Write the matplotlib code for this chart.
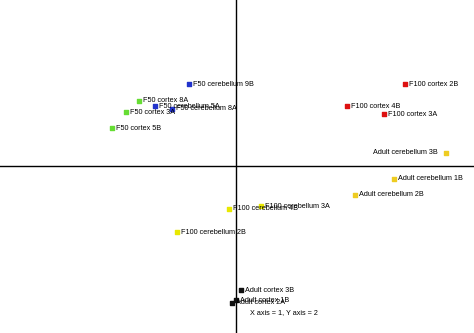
import matplotlib.pyplot as plt

# PCA scores (axis 1 = x, axis 2 = y)
names = ["F50 cerebellum 9B", "F50 cerebellum 5A", "F50 cerebellum 8A",
         "F50 cortex 8A", "F50 cortex 3A", "F50 cortex 5B",
         "F100 cortex 2B", "F100 cortex 4B", "F100 cortex 3A",
         "Adult cerebellum 3B", "Adult cerebellum 1B", "Adult cerebellum 2B",
         "F100 cerebellum 4B", "F100 cerebellum 3A", "F100 cerebellum 2B",
         "Adult cortex 3B", "Adult cortex 1B", "Adult cortex 2A"]
xs = [-0.47, -0.81, -0.64,
      -0.97, -1.10, -1.24,
      1.69, 1.11, 1.48,
      2.10, 1.58, 1.19,
      -0.07, 0.25, -0.59,
      0.05, 0.00, -0.04]
ys = [0.82, 0.60, 0.57,
      0.65, 0.54, 0.38,
      0.82, 0.60, 0.52,
      0.13, -0.13, -0.29,
      -0.43, -0.40, -0.66,
      -1.24, -1.34, -1.37]
colors = ["#2233cc"] * 3 + ["#66dd33"] * 3 + ["#dd1111"] * 3 + ["#eecc22"] * 3 + \
         ["#e8e800"] * 3 + ["#111111"] * 3

fig = plt.figure(figsize=(4.74, 3.33), dpi=100)
ax = fig.add_axes([0, 0, 1, 1])
ax.set_xlim(-2.36, 2.38)
ax.set_ylim(-1.67, 1.66)
ax.axis("off")
ax.axhline(0, color="black", lw=1.0)
ax.axvline(0, color="black", lw=1.0)

ax.scatter(xs, ys, marker="s", s=10, c=colors, zorder=3)
for name, x, y in zip(names, xs, ys):
    if name == "Adult cerebellum 3B":
        ax.annotate(name, (x, y), xytext=(-6, 0), textcoords="offset points",
                    ha="right", va="center", fontsize=5.2, family="Liberation Sans")
    else:
        ax.annotate(name, (x, y), xytext=(3, 0), textcoords="offset points",
                    ha="left", va="center", fontsize=5.2, family="Liberation Sans")

ax.text(0.14, -1.47, "X axis = 1, Y axis = 2", ha="left", va="center",
        fontsize=5.2, family="Liberation Sans")

fig.savefig("out.png", dpi=100)
